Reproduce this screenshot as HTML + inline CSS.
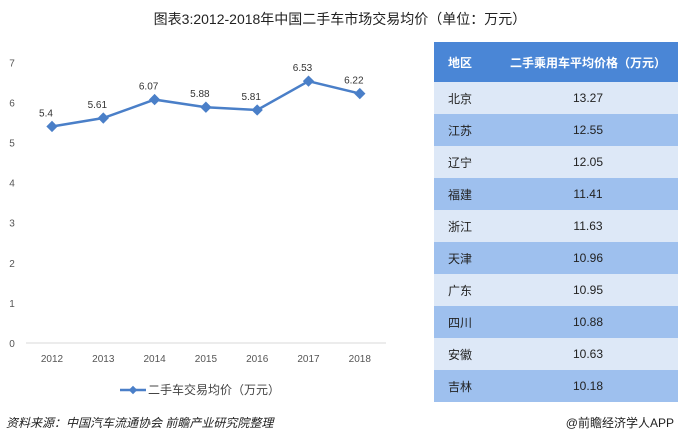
<!DOCTYPE html>
<html><head><meta charset="utf-8"><style>
body{margin:0;width:680px;height:442px;background:#fff;font-family:"Liberation Sans","Noto Sans CJK SC",sans-serif;position:relative;overflow:hidden}
.t{position:absolute}
table{position:absolute;left:434px;top:42px;width:244px;border-collapse:collapse;font-size:12px;color:#222}
td,th{height:32px;padding:0}
th{background:#4a86d6;color:#fff;font-weight:bold;height:40px}
tr.a td{background:#dde8f7}
tr.b td{background:#9ec0ee}
td:first-child,th:first-child{padding-left:14px;text-align:left;width:50px}
td:last-child{text-align:center}
</style></head><body>
<div class="t" style="left:0;width:680px;top:9px;text-align:center;font-size:14px;color:#222">图表3:2012-2018年中国二手车市场交易均价（单位：万元）</div>
<svg class="t" style="left:0;top:0" width="430" height="410" id="ch"></svg>
<table>
<tr><th>地区</th><th>二手乘用车平均价格（万元）</th></tr>
<tr class="a"><td>北京</td><td>13.27</td></tr>
<tr class="b"><td>江苏</td><td>12.55</td></tr>
<tr class="a"><td>辽宁</td><td>12.05</td></tr>
<tr class="b"><td>福建</td><td>11.41</td></tr>
<tr class="a"><td>浙江</td><td>11.63</td></tr>
<tr class="b"><td>天津</td><td>10.96</td></tr>
<tr class="a"><td>广东</td><td>10.95</td></tr>
<tr class="b"><td>四川</td><td>10.88</td></tr>
<tr class="a"><td>安徽</td><td>10.63</td></tr>
<tr class="b"><td>吉林</td><td>10.18</td></tr>
</table>
<div class="t" style="left:6px;top:414px;font-size:12px;font-style:italic;color:#222">资料来源：中国汽车流通协会 前瞻产业研究院整理</div>
<div class="t" style="right:6px;top:414px;font-size:12px;color:#222">@前瞻经济学人APP</div>
<script>
const years=['2012','2013','2014','2015','2016','2017','2018'];
const prices=[5.4,5.61,6.07,5.88,5.81,6.53,6.22];
const yTicks=[0,1,2,3,4,5,6,7];
const svg=document.getElementById('ch');const NS='http://www.w3.org/2000/svg';
const X=i=>52+i*51.3, Y=v=>343-v*40.1;
function mk(t,a,txt){const e=document.createElementNS(NS,t);for(const k in a)e.setAttribute(k,a[k]);if(txt!=null)e.textContent=txt;svg.appendChild(e);return e;}
let ax=mk('line',{x1:26,x2:386,y1:Y(0),y2:Y(0),stroke:'#d9d9d9'});

yTicks.forEach(v=>{const e=mk('text',{x:12,y:Y(v)+4,'font-size':10,fill:'#555','text-anchor':'middle'},v);
});
years.forEach((y,i)=>{const e=mk('text',{x:X(i),y:362,'font-size':10,fill:'#555','text-anchor':'middle'},y);
});
const pl=mk('polyline',{points:prices.map((v,i)=>X(i)+','+Y(v)).join(' '),fill:'none',stroke:'#4a7fc8','stroke-width':2.5});

prices.forEach((v,i)=>{const m=mk('rect',{x:X(i)-4,y:Y(v)-4,width:8,height:8,fill:'#4a7fc8',transform:`rotate(45 ${X(i)} ${Y(v)})`});

const l=mk('text',{x:X(i)-6,y:Y(v)-10,'font-size':10,fill:'#333','text-anchor':'middle'},v);
});
const lg=mk('line',{x1:120,x2:146,y1:390,y2:390,stroke:'#4a7fc8','stroke-width':2.5});

const lm=mk('rect',{x:130,y:387,width:6,height:6,fill:'#4a7fc8',transform:'rotate(45 133 390)'});

const lt=mk('text',{x:148,y:394,'font-size':12,fill:'#444'},'二手车交易均价（万元）');

</script>
</body></html>
